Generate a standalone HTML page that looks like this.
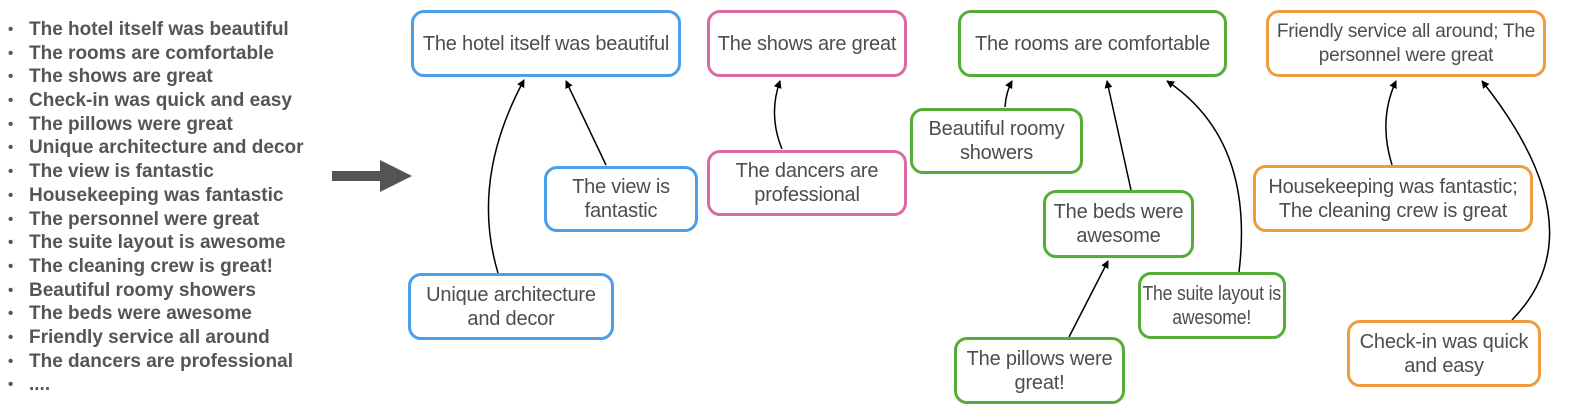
<!DOCTYPE html>
<html><head><meta charset="utf-8"><style>
html,body{margin:0;padding:0;background:#fff;}
body{width:1581px;height:415px;position:relative;overflow:hidden;font-family:"Liberation Sans",sans-serif;color:#4d4d4d;}
ul{position:absolute;left:29px;top:18px;margin:0;padding:0;list-style:none;font-weight:bold;font-size:19px;color:#555;white-space:nowrap;}
ul li{height:23.7px;line-height:23.7px;position:relative;}
ul li:before{content:"•";position:absolute;left:-21px;top:0;font-size:15px;}
.b{position:absolute;box-sizing:border-box;border:3px solid;border-radius:13px;display:flex;align-items:center;justify-content:center;text-align:center;font-size:20px;line-height:24px;background:#fff;white-space:nowrap;letter-spacing:-0.2px;}
.bl{border-color:#4a9fe8}.pk{border-color:#d96aa6}.gr{border-color:#55ad38}.or{border-color:#ef9b3f}
.c{display:inline-block;transform:scaleX(0.88);}
svg{position:absolute;left:0;top:0;}
</style></head><body>
<ul>
<li>The hotel itself was beautiful</li>
<li>The rooms are comfortable</li>
<li>The shows are great</li>
<li>Check-in was quick and easy</li>
<li>The pillows were great</li>
<li>Unique architecture and decor</li>
<li>The view is fantastic</li>
<li>Housekeeping was fantastic</li>
<li>The personnel were great</li>
<li>The suite layout is awesome</li>
<li>The cleaning crew is great!</li>
<li>Beautiful roomy showers</li>
<li>The beds were awesome</li>
<li>Friendly service all around</li>
<li>The dancers are professional</li>
<li>....</li>
</ul>
<svg width="1581" height="415">
<defs><marker id="a" markerWidth="8" markerHeight="8" refX="7" refY="4" orient="auto" markerUnits="userSpaceOnUse"><path d="M0,0 L8,4 L0,8 z" fill="#000"/></marker></defs>
<polygon points="332,171 380,171 380,160 412,176 380,192 380,181 332,181" fill="#555"/>
<g fill="none" stroke="#000" stroke-width="1.5" marker-end="url(#a)">
<path d="M498,273 Q470,180 524,80"/>
<path d="M606,165 L566,81"/>
<path d="M782,149 Q768,115 780,81"/>
<path d="M1005,107 Q1006,92 1012,81"/>
<path d="M1131,190 L1107,81"/>
<path d="M1239,272 Q1255,140 1167,81"/>
<path d="M1069,337 L1108,261"/>
<path d="M1392,165 Q1378,120 1396,81"/>
<path d="M1512,320 Q1600,230 1482,81"/>
</g>
</svg>
<div class="b bl" style="left:411px;top:10px;width:270px;height:67px">The hotel itself was beautiful</div>
<div class="b pk" style="left:707px;top:10px;width:200px;height:67px">The shows are great</div>
<div class="b bl" style="left:544px;top:166px;width:154px;height:66px">The view is<br>fantastic</div>
<div class="b pk" style="left:707px;top:150px;width:200px;height:66px">The dancers are<br>professional</div>
<div class="b bl" style="left:408px;top:273px;width:206px;height:67px">Unique architecture<br>and decor</div>
<div class="b gr" style="left:958px;top:10px;width:269px;height:67px">The rooms are comfortable</div>
<div class="b gr" style="left:910px;top:108px;width:173px;height:66px">Beautiful roomy<br>showers</div>
<div class="b gr" style="left:1043px;top:190px;width:151px;height:68px">The beds were<br>awesome</div>
<div class="b gr" style="left:1138px;top:272px;width:148px;height:67px"><span class="c">The suite layout is<br>awesome!</span></div>
<div class="b gr" style="left:954px;top:337px;width:171px;height:67px">The pillows were<br>great!</div>
<div class="b or" style="left:1266px;top:10px;width:280px;height:67px;font-size:19px">Friendly service all around; The<br>personnel were great</div>
<div class="b or" style="left:1253px;top:165px;width:280px;height:67px">Housekeeping was fantastic;<br>The cleaning crew is great</div>
<div class="b or" style="left:1347px;top:320px;width:194px;height:67px">Check-in was quick<br>and easy</div>
</body></html>
